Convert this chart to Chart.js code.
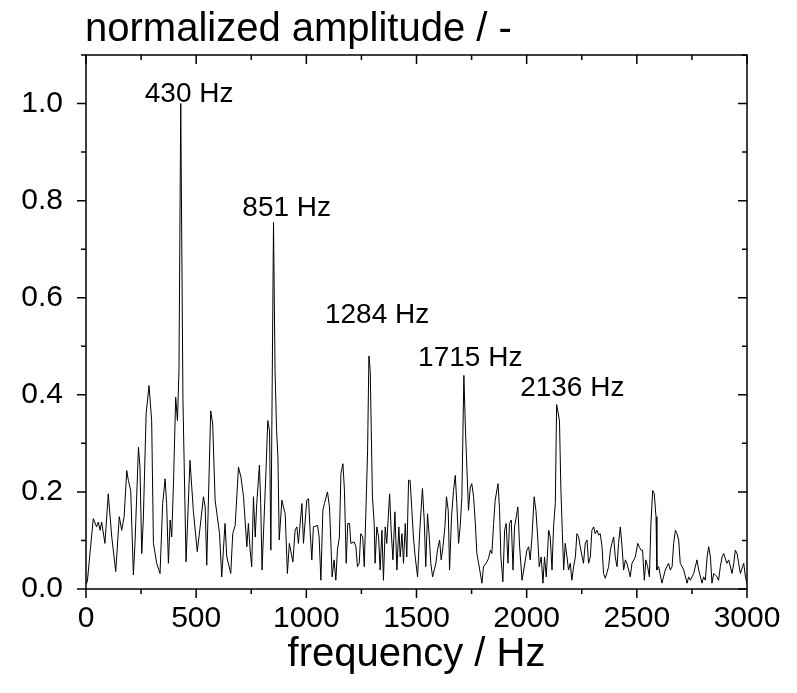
<!DOCTYPE html>
<html>
<head>
<meta charset="utf-8">
<script src="https://cdn.jsdelivr.net/npm/chart.js@4.4.1/dist/chart.umd.min.js"></script>
<style>
  html, body { margin: 0; padding: 0; background: #fff; }
  canvas { display: block; }
</style>
</head>
<body>
<canvas id="spectrum" width="797" height="693"></canvas>
<script>
// spectrum (local maxima / minima of the trace)
const freqHz = [
  0, 6, 33, 48, 56, 64, 71, 86, 101, 117, 135, 151, 162, 173, 185, 192, 203, 215, 223, 238,
  245, 253, 260, 273, 286, 298, 306, 321, 336, 348, 359, 366, 374, 382, 389, 397, 407, 415, 422, 430,
  440, 454, 472, 487, 505, 518, 533, 541, 548, 566, 575, 586, 596, 606, 616, 631, 639, 657, 666, 677,
  692, 703, 715, 730, 737, 745, 752, 760, 768, 775, 787, 793, 799, 808, 817, 825, 833, 839, 845, 851,
  858, 865, 871, 877, 889, 896, 904, 914, 923, 930, 939, 949, 957, 964, 980, 987, 1002, 1010, 1017, 1025,
  1032, 1051, 1058, 1066, 1075, 1082, 1096, 1105, 1111, 1117, 1126, 1134, 1141, 1150, 1157, 1166, 1173, 1181, 1188, 1196,
  1202, 1217, 1225, 1232, 1240, 1247, 1256, 1263, 1270, 1278, 1284, 1290, 1300, 1308, 1312, 1320, 1328, 1335, 1343, 1350,
  1358, 1365, 1378, 1385, 1393, 1402, 1411, 1420, 1426, 1434, 1441, 1449, 1456, 1464, 1471, 1479, 1486, 1494, 1505, 1514,
  1527, 1535, 1542, 1550, 1558, 1565, 1573, 1588, 1595, 1605, 1612, 1620, 1629, 1636, 1644, 1650, 1659, 1668, 1676, 1683,
  1691, 1698, 1706, 1715, 1722, 1736, 1744, 1751, 1759, 1767, 1774, 1782, 1797, 1804, 1820, 1827, 1835, 1842, 1850, 1857,
  1870, 1877, 1883, 1892, 1900, 1907, 1915, 1922, 1930, 1938, 1945, 1953, 1960, 1968, 1979, 1994, 2001, 2009, 2016, 2024,
  2034, 2042, 2050, 2057, 2066, 2074, 2081, 2089, 2100, 2107, 2115, 2122, 2130, 2136, 2149, 2155, 2162, 2168, 2175, 2183,
  2190, 2198, 2205, 2213, 2221, 2228, 2236, 2243, 2258, 2266, 2274, 2281, 2289, 2296, 2304, 2311, 2319, 2327, 2334, 2342,
  2349, 2357, 2372, 2380, 2387, 2395, 2402, 2410, 2417, 2425, 2433, 2440, 2448, 2455, 2463, 2470, 2478, 2493, 2504, 2511,
  2519, 2526, 2534, 2541, 2549, 2557, 2564, 2572, 2579, 2587, 2591, 2599, 2614, 2629, 2644, 2652, 2660, 2667, 2675, 2682,
  2690, 2697, 2713, 2728, 2735, 2743, 2758, 2773, 2781, 2796, 2803, 2811, 2819, 2826, 2834, 2841, 2849, 2864, 2871, 2879,
  2887, 2894, 2909, 2917, 2932, 2940, 2947, 2955, 2962, 2970, 2985, 2993, 3000
];
const amplitude = [
  0.010, 0.015, 0.145, 0.128, 0.138, 0.121, 0.138, 0.094, 0.196, 0.107, 0.036, 0.149, 0.121, 0.149, 0.244, 0.224, 0.203, 0.029, 0.101, 0.292,
  0.251, 0.073, 0.142, 0.361, 0.419, 0.347, 0.094, 0.053, 0.032, 0.176, 0.227, 0.176, 0.053, 0.142, 0.107, 0.217, 0.395, 0.347, 0.450, 1.000,
  0.390, 0.056, 0.265, 0.162, 0.077, 0.128, 0.190, 0.169, 0.049, 0.367, 0.340, 0.183, 0.149, 0.114, 0.025, 0.135, 0.066, 0.032, 0.114, 0.131,
  0.251, 0.231, 0.190, 0.087, 0.135, 0.080, 0.046, 0.190, 0.107, 0.176, 0.255, 0.176, 0.039, 0.142, 0.244, 0.347, 0.326, 0.080, 0.420, 0.755,
  0.450, 0.326, 0.272, 0.101, 0.183, 0.169, 0.155, 0.032, 0.094, 0.077, 0.056, 0.121, 0.128, 0.094, 0.176, 0.094, 0.183, 0.186, 0.121, 0.060,
  0.128, 0.131, 0.107, 0.018, 0.162, 0.176, 0.200, 0.169, 0.101, 0.025, 0.060, 0.018, 0.080, 0.107, 0.238, 0.258, 0.203, 0.053, 0.135, 0.135,
  0.094, 0.097, 0.087, 0.046, 0.053, 0.114, 0.107, 0.046, 0.155, 0.285, 0.480, 0.450, 0.190, 0.135, 0.053, 0.128, 0.107, 0.039, 0.121, 0.018,
  0.128, 0.094, 0.196, 0.121, 0.060, 0.159, 0.039, 0.128, 0.066, 0.114, 0.053, 0.135, 0.066, 0.224, 0.224, 0.162, 0.107, 0.066, 0.025, 0.114,
  0.207, 0.142, 0.046, 0.155, 0.107, 0.053, 0.025, 0.053, 0.080, 0.101, 0.060, 0.087, 0.128, 0.190, 0.162, 0.039, 0.149, 0.203, 0.234, 0.176,
  0.094, 0.128, 0.190, 0.440, 0.330, 0.162, 0.210, 0.217, 0.190, 0.135, 0.073, 0.053, 0.012, 0.046, 0.056, 0.063, 0.080, 0.073, 0.135, 0.183,
  0.217, 0.162, 0.066, 0.015, 0.121, 0.135, 0.053, 0.135, 0.142, 0.039, 0.128, 0.149, 0.169, 0.087, 0.018, 0.060, 0.080, 0.087, 0.060, 0.107,
  0.190, 0.162, 0.107, 0.046, 0.066, 0.012, 0.066, 0.025, 0.121, 0.107, 0.039, 0.128, 0.176, 0.380, 0.347, 0.210, 0.114, 0.039, 0.094, 0.066,
  0.039, 0.053, 0.018, 0.046, 0.066, 0.114, 0.107, 0.087, 0.053, 0.094, 0.101, 0.053, 0.066, 0.121, 0.128, 0.114, 0.121, 0.111, 0.114, 0.087,
  0.032, 0.022, 0.046, 0.080, 0.094, 0.107, 0.066, 0.046, 0.094, 0.128, 0.087, 0.039, 0.060, 0.053, 0.039, 0.025, 0.053, 0.066, 0.094, 0.087,
  0.080, 0.080, 0.018, 0.060, 0.046, 0.025, 0.135, 0.203, 0.196, 0.149, 0.039, 0.046, 0.012, 0.039, 0.053, 0.039, 0.046, 0.094, 0.121, 0.114,
  0.101, 0.053, 0.039, 0.012, 0.025, 0.018, 0.032, 0.060, 0.039, 0.012, 0.025, 0.018, 0.066, 0.087, 0.066, 0.012, 0.032, 0.025, 0.018, 0.046,
  0.066, 0.073, 0.053, 0.060, 0.032, 0.053, 0.080, 0.073, 0.053, 0.032, 0.053, 0.025, 0.012
];

const xTicks = [0, 500, 1000, 1500, 2000, 2500, 3000];
const yTicks = [0.0, 0.2, 0.4, 0.6, 0.8, 1.0];

// peak labels: text, and where the label sits (Hz, amplitude of baseline)
const peakText = ["430 Hz", "851 Hz", "1284 Hz", "1715 Hz", "2136 Hz"];
const peakLabelHz = [468, 911, 1321, 1744, 2207];
const peakLabelAmp = [1.004, 0.768, 0.548, 0.46, 0.398];

const FONT = "'Liberation Sans', Arial, sans-serif";

const frameAndLabels = {
  id: "frameAndLabels",
  afterDraw(chart) {
    const { ctx, chartArea: a, scales } = chart;
    const x = scales.x;
    const y = scales.y;
    ctx.save();
    ctx.strokeStyle = "#000";
    ctx.lineWidth = 1.5;
    ctx.strokeRect(a.left, a.top, a.right - a.left, a.bottom - a.top);

    ctx.beginPath();
    // x ticks: outward at the bottom, inward at the top
    for (let i = 0; i <= 12; i++) {
      const px = x.getPixelForValue(i * 250);
      const len = i % 2 === 0 ? 9 : 5;
      ctx.moveTo(px, a.bottom);
      ctx.lineTo(px, a.bottom + len);
      ctx.moveTo(px, a.top);
      ctx.lineTo(px, a.top + len);
    }
    // y ticks: outward on the left, inward on the right
    for (let i = 0; i <= 11; i++) {
      const py = y.getPixelForValue(i * 0.1);
      const len = i % 2 === 0 ? 9 : 5;
      ctx.moveTo(a.left, py);
      ctx.lineTo(a.left - len, py);
      ctx.moveTo(a.right, py);
      ctx.lineTo(a.right - len, py);
    }
    ctx.stroke();

    // axis title at the top left
    ctx.fillStyle = "#000";
    ctx.font = "40px " + FONT;
    ctx.textAlign = "left";
    ctx.textBaseline = "alphabetic";
    ctx.fillText("normalized amplitude / -", a.left - 1, 41);

    // peak labels
    ctx.font = "28px " + FONT;
    ctx.textAlign = "center";
    peakText.forEach((t, i) => {
      ctx.fillText(t, x.getPixelForValue(peakLabelHz[i]), y.getPixelForValue(peakLabelAmp[i]));
    });
    ctx.restore();
  }
};

new Chart(document.getElementById("spectrum"), {
  type: "scatter",
  data: {
    datasets: [{
      data: freqHz.map((f, i) => ({ x: f, y: amplitude[i] })),
      showLine: true,
      borderColor: "#000",
      borderWidth: 1,
      pointRadius: 0,
      tension: 0,
    }],
  },
  options: {
    responsive: false,
    animation: false,
    layout: { padding: { top: 55, right: 50, left: 0, bottom: 0 } },
    plugins: {
      legend: { display: false },
      tooltip: { enabled: false },
    },
    scales: {
      x: {
        type: "linear",
        min: 0,
        max: 3000,
        afterBuildTicks: (s) => { s.ticks = xTicks.map((v) => ({ value: v })); },
        afterFit: (s) => { s.height = 104; },
        grid: { display: false, drawTicks: false },
        border: { display: false },
        ticks: {
          color: "#000",
          font: { family: FONT, size: 30 },
          padding: 12,
          maxRotation: 0,
          callback: (v) => String(v),
        },
        title: {
          display: true,
          text: "frequency / Hz",
          color: "#000",
          font: { family: FONT, size: 40 },
          padding: { top: 0, bottom: 14 },
        },
      },
      y: {
        min: 0,
        max: 1.1,
        afterBuildTicks: (s) => { s.ticks = yTicks.map((v) => ({ value: v })); },
        afterFit: (s) => { s.width = 86; },
        grid: { display: false, drawTicks: false },
        border: { display: false },
        ticks: {
          color: "#000",
          font: { family: FONT, size: 30 },
          padding: 23,
          callback: (v) => v.toFixed(1),
        },
      },
    },
  },
  plugins: [frameAndLabels],
});
</script>
</body>
</html>
